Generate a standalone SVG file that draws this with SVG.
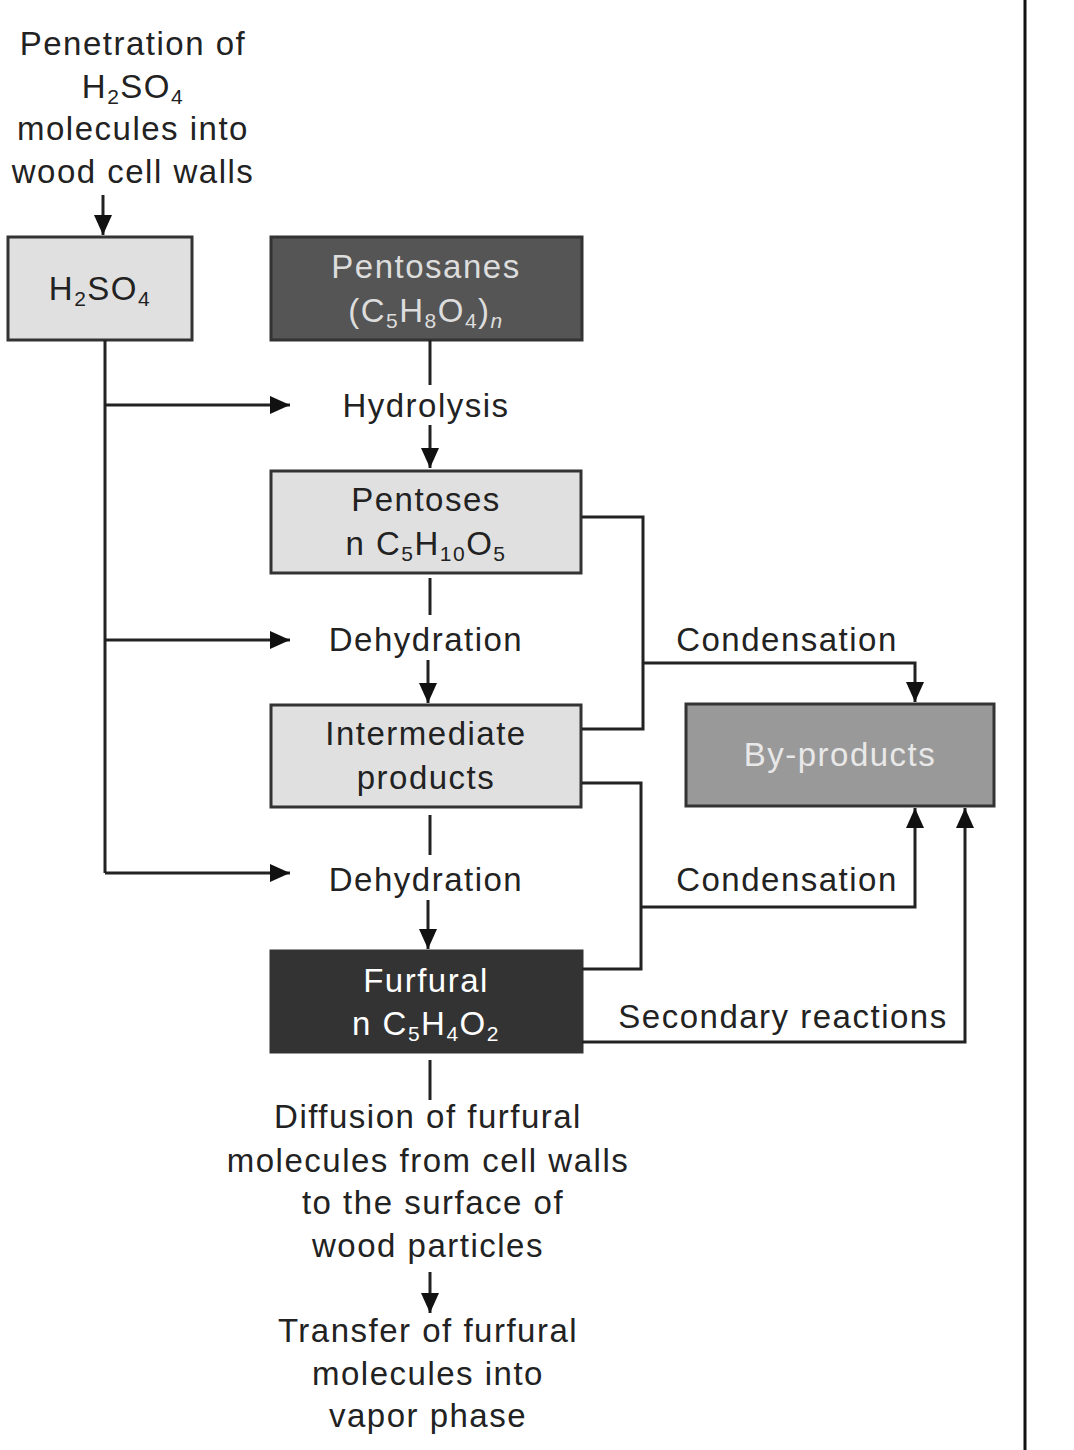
<svg xmlns="http://www.w3.org/2000/svg" width="1074" height="1450" viewBox="0 0 1074 1450">
<style>
text{font-family:"Liberation Sans",Arial,sans-serif;font-size:33px;letter-spacing:1.5px;text-anchor:middle;fill:#222}
.b{stroke:#333;stroke-width:3}
.c{fill:none;stroke:#222;stroke-width:3}
</style>
<defs>
<marker id="m" markerWidth="22" markerHeight="22" refX="20" refY="11" orient="auto" markerUnits="userSpaceOnUse"><path d="M0,2L20,11L0,20z" fill="#111"/></marker></defs>
<rect width="1074" height="1450" fill="#fff"/>
<line x1="1025" y1="0" x2="1025" y2="1450" stroke="#111" stroke-width="3"/>
<g id="t1"><text x="133" y="55">Penetration of</text><text x="133" y="98">H<tspan font-size="21" dy="6">2</tspan><tspan dy="-6">SO</tspan><tspan font-size="21" dy="6">4</tspan></text><text x="133" y="140">molecules into</text><text x="133" y="183">wood cell walls</text></g>
<g id="h2so4"><rect class="b" x="8" y="237" width="184" height="103" fill="#e0e0e0"/><text x="100" y="300">H<tspan font-size="21" dy="6">2</tspan><tspan dy="-6">SO</tspan><tspan font-size="21" dy="6">4</tspan></text></g>
<g id="pentosanes"><rect class="b" x="271" y="237" width="311" height="103" fill="#555"/><text x="426" y="278" style="fill:#ddd">Pentosanes</text><text x="426" y="322" style="fill:#ddd">(C<tspan font-size="21" dy="6">5</tspan><tspan dy="-6">H</tspan><tspan font-size="21" dy="6">8</tspan><tspan dy="-6">O</tspan><tspan font-size="21" dy="6">4</tspan><tspan dy="-6">)</tspan><tspan font-size="21" font-style="italic" dy="6">n</tspan></text></g>
<g id="pentoses"><rect class="b" x="271" y="471" width="310" height="102" fill="#e0e0e0"/><text x="426" y="511">Pentoses</text><text x="426" y="555">n C<tspan font-size="21" dy="6">5</tspan><tspan dy="-6">H</tspan><tspan font-size="21" dy="6">10</tspan><tspan dy="-6">O</tspan><tspan font-size="21" dy="6">5</tspan></text></g>
<g id="inter"><rect class="b" x="271" y="705" width="310" height="102" fill="#e0e0e0"/><text x="426" y="745">Intermediate</text><text x="426" y="789">products</text></g>
<g id="furfural"><rect class="b" x="271" y="951" width="311" height="101" fill="#333"/><text x="426" y="992" style="fill:#fff">Furfural</text><text x="426" y="1035" style="fill:#fff">n C<tspan font-size="21" dy="6">5</tspan><tspan dy="-6">H</tspan><tspan font-size="21" dy="6">4</tspan><tspan dy="-6">O</tspan><tspan font-size="21" dy="6">2</tspan></text></g>
<g id="byproducts"><rect class="b" x="686" y="704" width="308" height="102" fill="#999"/><text x="840" y="766" style="fill:#e8e8e8">By-products</text></g>
<g id="labels"><text x="426" y="417">Hydrolysis</text><text x="426" y="651">Dehydration</text><text x="426" y="891">Dehydration</text><text x="787" y="651">Condensation</text><text x="787" y="891">Condensation</text><text x="783" y="1028">Secondary reactions</text>
<text x="428" y="1128">Diffusion of furfural</text><text x="428" y="1172">molecules from cell walls</text><text x="433" y="1214">to the surface of</text><text x="428" y="1257">wood particles</text>
<text x="428" y="1342">Transfer of furfural</text><text x="428" y="1385">molecules into</text><text x="428" y="1427">vapor phase</text></g>
<g id="connectors">
<line class="c" x1="103" y1="195" x2="103" y2="235" marker-end="url(#m)"/>
<line class="c" x1="430" y1="340" x2="430" y2="385"/>
<line class="c" x1="430" y1="425" x2="430" y2="468" marker-end="url(#m)"/>
<line class="c" x1="430" y1="578" x2="430" y2="615"/>
<line class="c" x1="428" y1="660" x2="428" y2="703" marker-end="url(#m)"/>
<line class="c" x1="430" y1="815" x2="430" y2="855"/>
<line class="c" x1="428" y1="900" x2="428" y2="949" marker-end="url(#m)"/>
<line class="c" x1="430" y1="1060" x2="430" y2="1100"/>
<line class="c" x1="430" y1="1272" x2="430" y2="1313" marker-end="url(#m)"/>
<path class="c" d="M105,340V873"/>
<line class="c" x1="105" y1="405" x2="290" y2="405" marker-end="url(#m)"/>
<line class="c" x1="105" y1="640" x2="290" y2="640" marker-end="url(#m)"/>
<line class="c" x1="105" y1="873" x2="290" y2="873" marker-end="url(#m)"/>
<path class="c" d="M582,517H643V729H582"/>
<path class="c" d="M643,663H915V702" marker-end="url(#m)"/>
<path class="c" d="M582,783H641V969H582"/>
<path class="c" d="M641,907H915V808" marker-end="url(#m)"/>
<path class="c" d="M582,1042H965V808" marker-end="url(#m)"/>
</g>
</svg>
